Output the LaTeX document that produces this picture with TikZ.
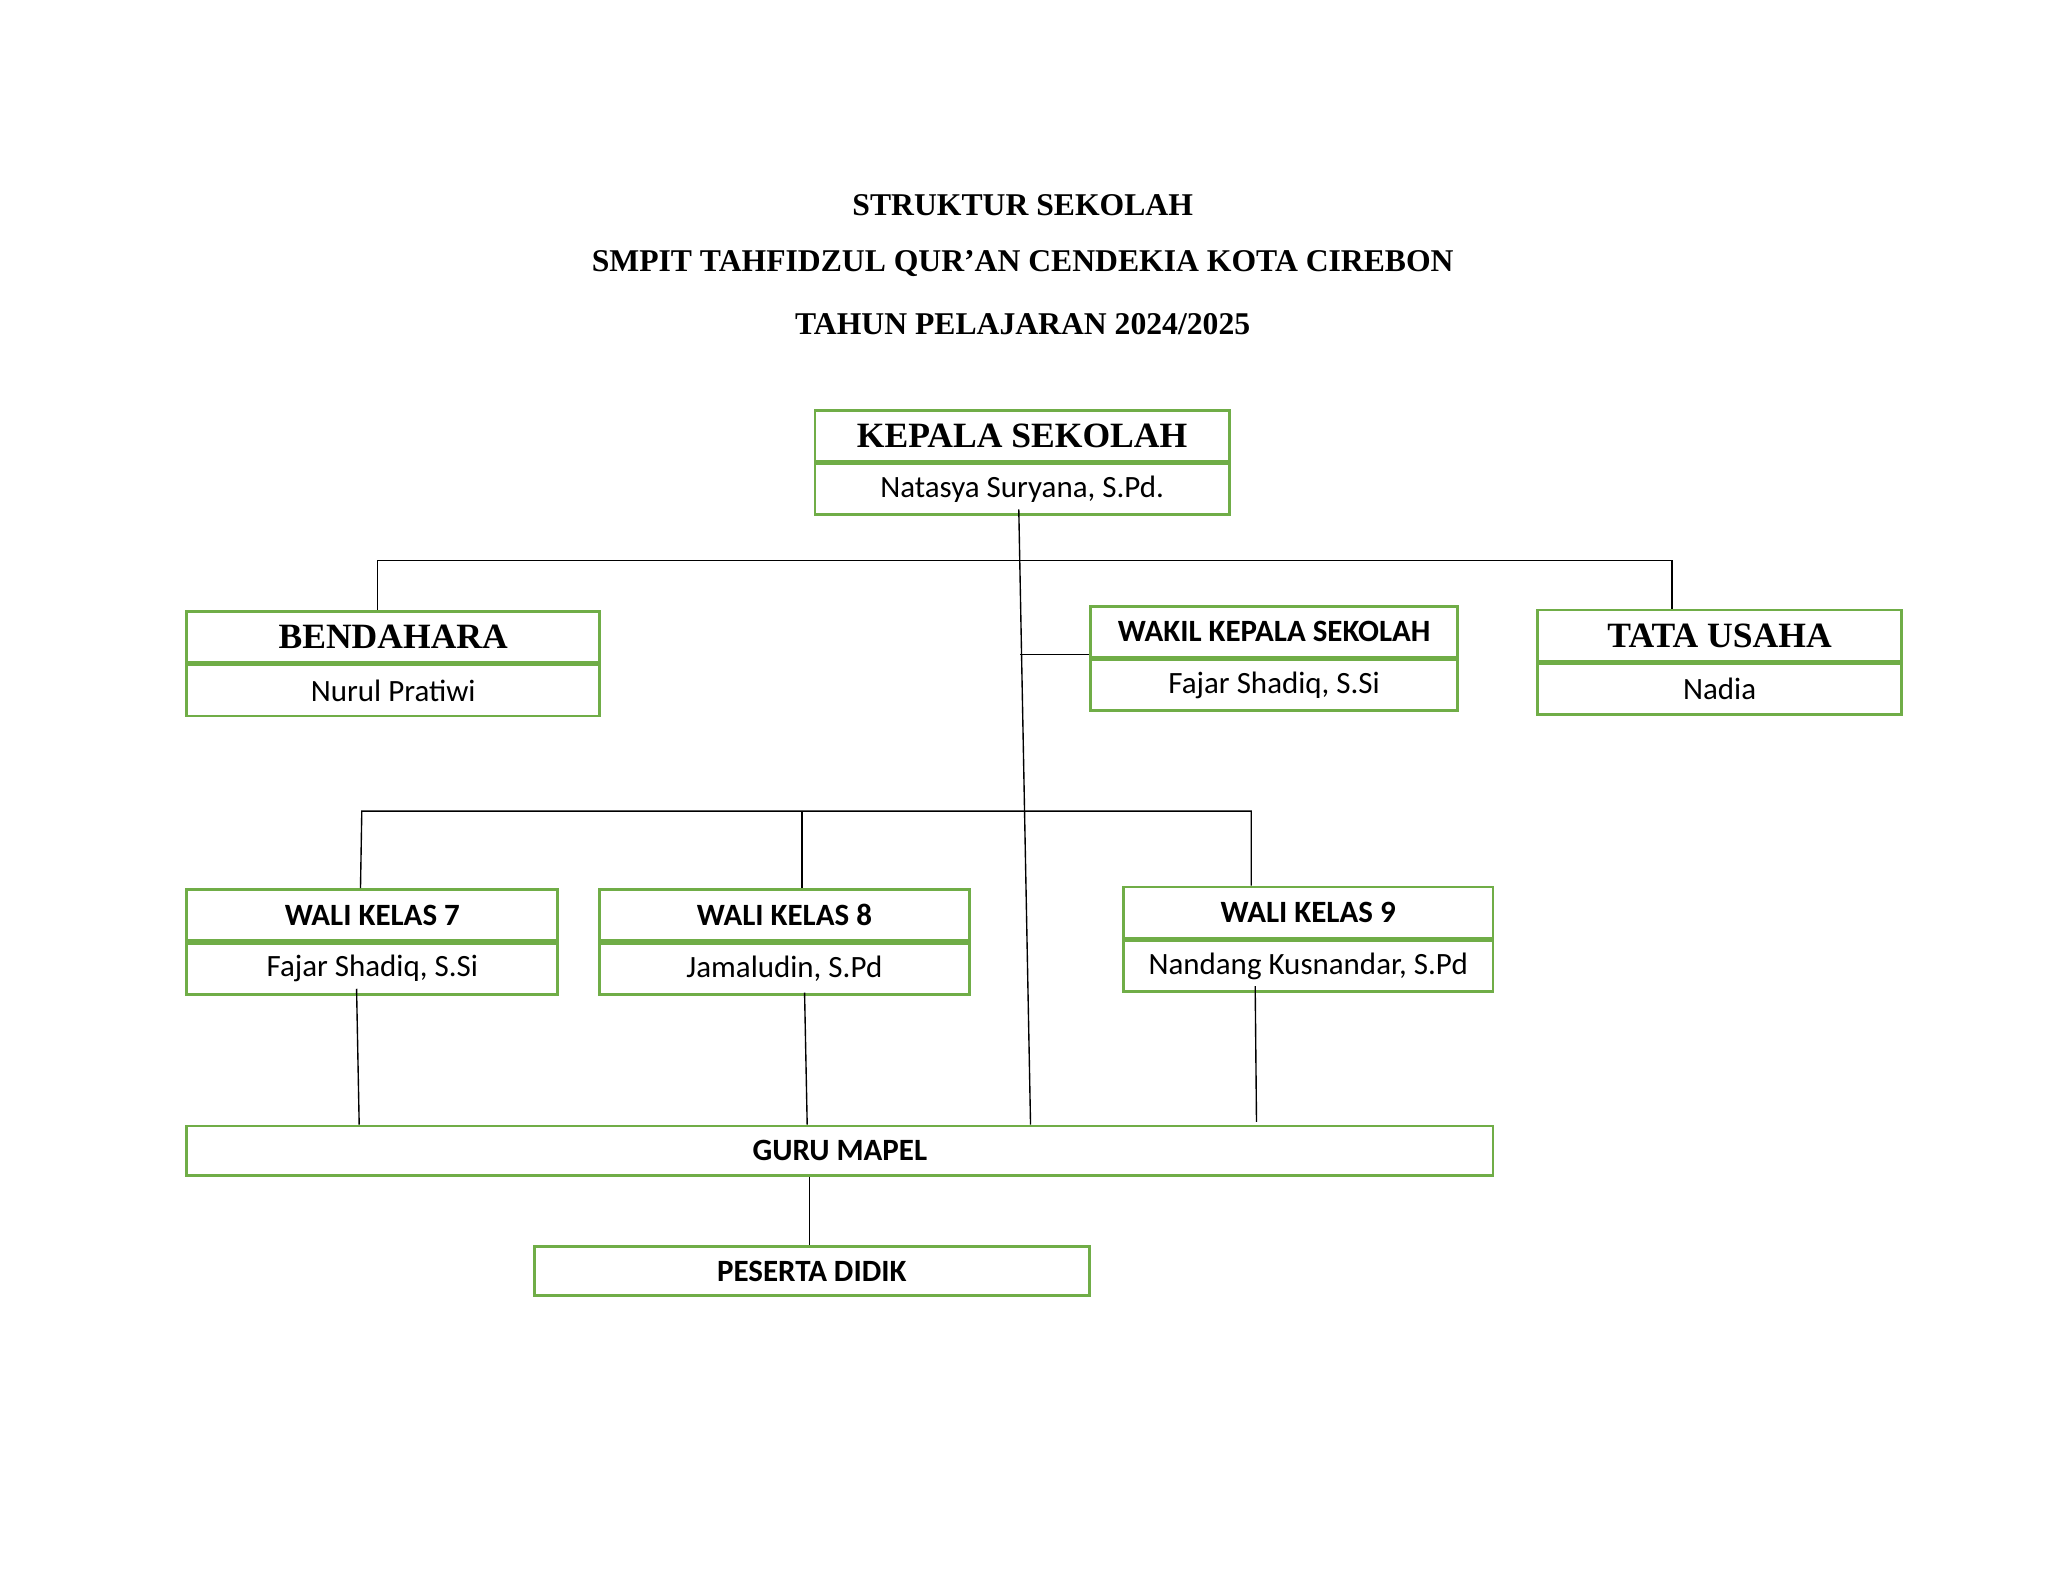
\documentclass[tikz,border=0pt]{standalone}
\usepackage{fontspec}
\setmainfont{Liberation Serif}
\newfontfamily\sansf{Carlito}
\definecolor{boxgreen}{HTML}{70AD47}
\begin{document}
\begin{tikzpicture}[x=0.02cm,y=-0.02cm]
\tikzset{
  cell/.style={draw=boxgreen,line width=1.2pt,inner sep=0pt,anchor=north west},
  head/.style={cell,font=\fontsize{15.5}{18}\selectfont\bfseries},
  shead/.style={cell,font=\sansf\fontsize{13.5}{16}\selectfont\bfseries},
  person/.style={cell,font=\sansf\fontsize{13.5}{16}\selectfont},
  title/.style={font=\fontsize{13.8}{16}\selectfont\bfseries},
  link/.style={line width=0.6pt}
}
\useasboundingbox (0,0) rectangle (1568,1211);
% title
\node[title] (t1) at (783,157) {STRUKTUR SEKOLAH};
\node[title] (t2) at (783,202) {SMPIT TAHFIDZUL QUR'AN CENDEKIA KOTA CIREBON};
\node[title] (t3) at (783,248) {TAHUN PELAJARAN 2024/2025};
% boxes: #1 name, #2 x, #3 y, #4 width, #5 height of one row
\newcommand\orgbox[8]{%
  \node[#6,minimum width=#4*0.02cm,minimum height=#5*0.02cm] (#1h) at (#2,#3) {#7};
  \node[person,minimum width=#4*0.02cm,minimum height=#5*0.02cm] (#1n) at (#1h.south west) {#8};}
\orgbox{kep}{623}{313}{317}{39}{head}{KEPALA SEKOLAH}{Natasya Suryana, S.Pd.}
\orgbox{ben}{142}{467}{316}{39}{head}{BENDAHARA}{Nurul Pratiwi}
\orgbox{wak}{834}{463}{281}{39}{shead}{WAKIL KEPALA SEKOLAH}{Fajar Shadiq, S.Si}
\orgbox{tu}{1176}{466}{279}{39}{head}{TATA USAHA}{Nadia}
\orgbox{wsa}{142}{680}{284}{39}{shead}{WALI KELAS 7}{Fajar Shadiq, S.Si}
\orgbox{wde}{458}{680}{283}{39}{shead}{WALI KELAS 8}{Jamaludin, S.Pd}
\orgbox{wse}{859}{678}{283}{39}{shead}{WALI KELAS 9}{Nandang Kusnandar, S.Pd}
\node[shead,minimum width=1000*0.02cm,minimum height=38*0.02cm] (guru) at (142,861) {GURU MAPEL};
\node[shead,minimum width=425*0.02cm,minimum height=38*0.02cm] (pes) at (408,953) {PESERTA DIDIK};
% connectors
\coordinate (kb) at (780,390);
\coordinate (gk) at (789,861);
\coordinate (j1) at (289,429);
\coordinate (j2) at (1280,429);
\coordinate (jw) at (781,501);
\coordinate (k1) at (277,621);
\coordinate (k2) at (614,621);
\coordinate (k3) at (958,621);
\draw[link] (kb) -- (gk);
\draw[link] (j1 |- benh.north) -- (j1) -- (j2) -- (j2 |- tuh.north);
\draw[link] (jw) -- (jw -| wakh.west);
\draw[link] (276,680) -- (k1) -- (k3) -- (k3 |- wseh.north);
\draw[link] (k2) -- (k2 |- wdeh.north);
\draw[link] (273,757) -- (275,861);
\draw[link] (616,760) -- (618,861);
\draw[link] (961,755) -- (962,859);
\draw[link] ([xshift=-0.04cm]guru.south -| pes.north) -- ([xshift=-0.04cm]pes.north);
\end{tikzpicture}
\end{document}
